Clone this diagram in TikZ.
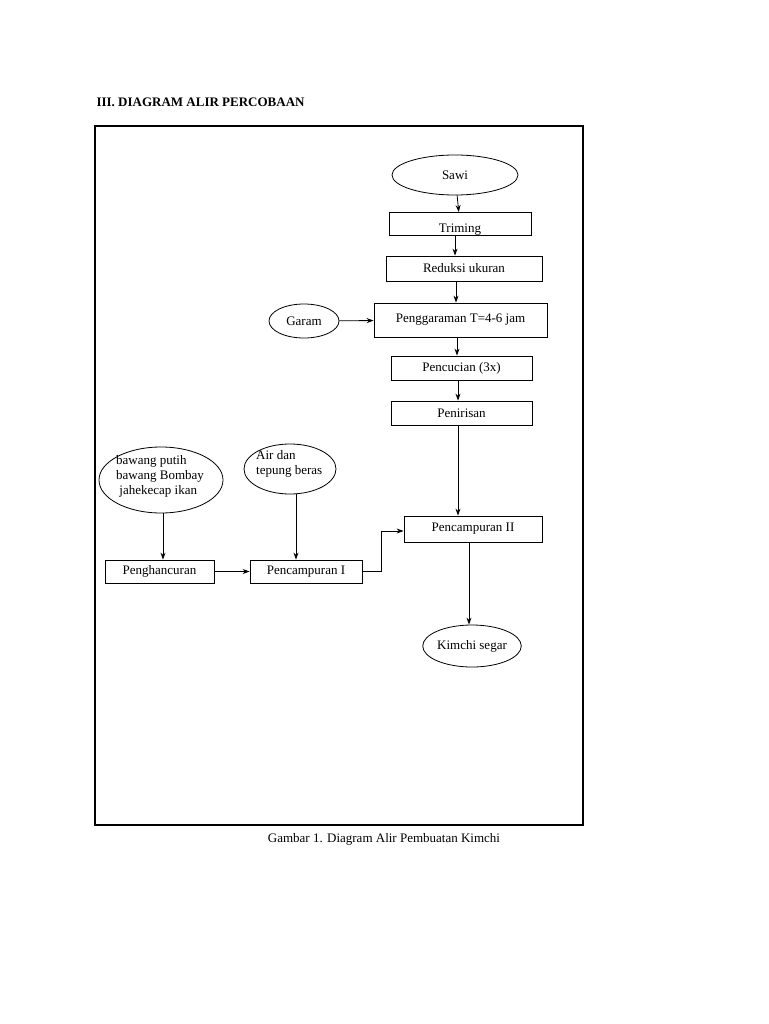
\documentclass[tikz,border=0pt]{standalone}
\usepackage{fontspec}
\setmainfont{Liberation Serif}
\usetikzlibrary{shapes.geometric,arrows.meta}
\begin{document}
\begin{tikzpicture}[x=1pt,y=-1pt,
  box/.style={draw,line width=0.8pt,inner sep=0pt,font=\fontsize{13}{15}\selectfont},
  ell/.style={draw,ellipse,line width=0.8pt,inner sep=0pt,font=\fontsize{13}{15}\selectfont},
  arr/.style={-{Stealth[length=7pt,width=5pt]},line width=0.8pt}]
\useasboundingbox (0,0) rectangle (768,1024);
\node[anchor=west,font=\bfseries\fontsize{13}{15}\selectfont] (title) at (93,102) {III. DIAGRAM ALIR PERCOBAAN};
\draw[line width=2.5pt] (95,126) rectangle (583,825);
\node[ell,minimum width=126,minimum height=40] (sawi) at (455,175) {Sawi};
\node[box,minimum width=142,minimum height=23,text depth=0pt,anchor=north] (trim) at (460,212) {\raisebox{-8pt}{Triming}};
\node[box,minimum width=156,minimum height=25] (red) at (464,268.5) {Reduksi ukuran};
\node[box,minimum width=173,minimum height=34] (peng) at (460.5,320) {Penggaraman T=4-6 jam};
\node[ell,minimum width=70,minimum height=34] (garam) at (304,321) {Garam};
\node[box,minimum width=141,minimum height=24] (cuci) at (461.5,368) {Pencucian (3x)};
\node[box,minimum width=141,minimum height=24] (tiris) at (461.5,413) {Penirisan};
\node[ell,minimum width=124,minimum height=66] (baw) at (161,480) {};
\node[anchor=north west,align=left,font=\fontsize{13}{15}\selectfont,inner sep=0pt] (bawt) at (116,455) {bawang putih\\bawang Bombay\\\ jahekecap ikan};
\node[ell,minimum width=92,minimum height=50] (air) at (290,469) {};
\node[anchor=north west,align=left,font=\fontsize{13}{15}\selectfont,inner sep=0pt] (airt) at (256,450) {Air dan\\tepung beras};
\node[box,minimum width=109,minimum height=23] (hanc) at (159.5,571.5) {Penghancuran};
\node[box,minimum width=112,minimum height=23] (c1) at (306,571.5) {Pencampuran I};
\node[box,minimum width=138,minimum height=26] (c2) at (473,529) {Pencampuran II};
\node[ell,minimum width=92,minimum height=42] (kim) at (472,646) {Kimchi segar};
\node[font=\fontsize{13}{15}\selectfont] (cap) at (384,839) {Gambar 1. Diagram Alir Pembuatan Kimchi};
\draw[arr] (sawi) -- (trim);
\draw[arr] (trim.south-|455,0) -- (red.north-|455,0);
\draw[arr] (red.south-|456,0) -- (peng.north-|456,0);
\draw[arr] (garam) -- (peng);
\draw[arr] (peng.south-|457,0) -- (cuci.north-|457,0);
\draw[arr] (cuci.south-|458,0) -- (tiris.north-|458,0);
\draw[arr] (tiris.south-|458,0) -- (c2.north-|458,0);
\draw[arr] (163,513) -- (hanc.north-|163,0);
\draw[arr] (air.south-|296,0) -- (c1.north-|296,0);
\draw[arr] (hanc) -- (c1);
\draw[arr] (c1.east) -- (381,571.5) -- (381,531) -- (c2.west|-0,531);
\draw[arr] (c2.south-|469,0) -- (kim.north-|469,0);
\end{tikzpicture}
\end{document}
